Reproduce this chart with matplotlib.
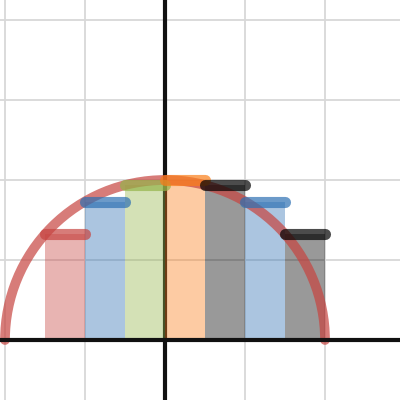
import matplotlib.pyplot as plt
from matplotlib.patches import Arc

# left-endpoint rectangles under the semicircle y = sqrt(4 - x^2)
left_edges = [-1.5, -1.0, -0.5, 0.0, 0.5, 1.0, 1.5]
heights = [1.32, 1.73, 1.94, 2.0, 1.94, 1.73, 1.32]
bar_width = 0.5
colors = ['#c74440', '#2d70b3', '#94b44a', '#fa7e19', '#000000', '#2d70b3', '#000000']
radius = 2.0

fig = plt.figure(figsize=(4, 4), dpi=100)
ax = fig.add_axes([0, 0, 1, 1])
ax.set_xlim(-2.0625, 2.9375)
ax.set_ylim(-0.75, 4.25)

# grid
for gx in [-2, -1, 1, 2]:
    ax.axvline(gx, color='#d8d8d8', lw=1.3, zorder=0)
for gy in [1, 2, 3, 4]:
    ax.axhline(gy, color='#d8d8d8', lw=1.3, zorder=0)

# y axis sits under the bars
ax.axvline(0, color='#111111', lw=3, zorder=0.5)

# bars
ax.bar(left_edges, heights, width=bar_width, align='edge', color=colors,
       alpha=0.4, linewidth=0, zorder=1)

# semicircle
arc = Arc((0, 0), 2 * radius, 2 * radius, theta1=0, theta2=180,
          color='#c74440', lw=7, alpha=0.7, zorder=2)
arc.set_capstyle('round')
ax.add_patch(arc)

ax.axhline(0, color='#111111', lw=3, zorder=3)

# tops of the rectangles
for x0, h, c in zip(left_edges, heights, colors):
    ax.plot([x0, x0 + bar_width], [h, h], color=c, lw=8, alpha=0.7,
            solid_capstyle='round', zorder=4)

ax.set_axis_off()
plt.savefig('out.png')
plt.close()
